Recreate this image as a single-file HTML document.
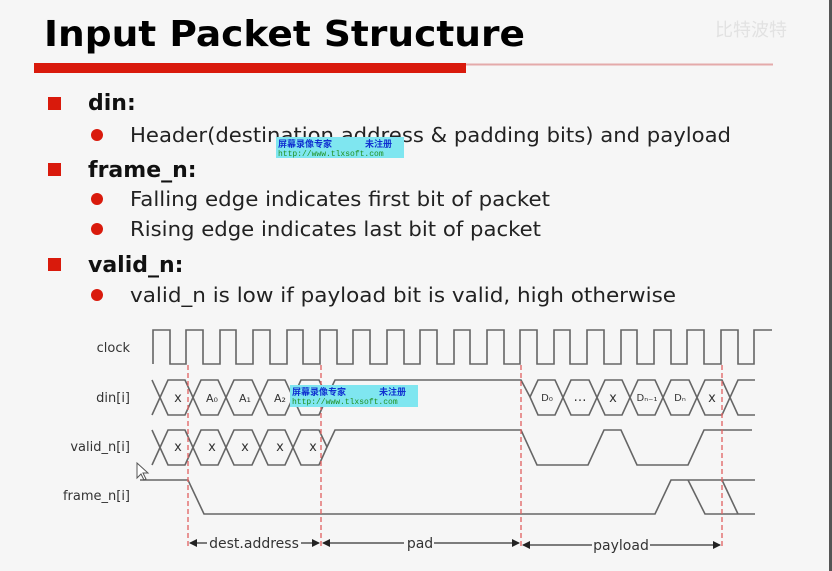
<!DOCTYPE html>
<html><head><meta charset="utf-8"><style>
html,body{margin:0;padding:0;background:#f6f6f6;}
svg{display:block;}
</style></head><body>
<svg width="832" height="571" viewBox="0 0 832 571" xmlns="http://www.w3.org/2000/svg">
<rect width="832" height="571" fill="#f6f6f6"/>
<rect x="829" y="0" width="3" height="571" fill="#555"/>
<text x="44" y="46" font-family="DejaVu Sans, Liberation Sans, sans-serif" font-weight="bold" font-size="36" textLength="481" lengthAdjust="spacingAndGlyphs" fill="#000">Input Packet Structure</text>
<text x="715" y="36" font-family="Noto Sans CJK SC, sans-serif" font-size="18" fill="#e2e2e2">比特波特</text>
<line x1="466" y1="64.5" x2="773" y2="64.5" stroke="#e4aaaa" stroke-width="2"/>
<rect x="34" y="63" width="432" height="10" fill="#d91a0c"/>

<g font-family="DejaVu Sans, Liberation Sans, sans-serif" fill="#111">
<rect x="48" y="97" width="13" height="13" fill="#d91a0c"/>
<text x="88" y="110" font-weight="bold" font-size="22">din:</text>
<circle cx="97" cy="135" r="6" fill="#d91a0c"/>
<text x="130" y="142" font-size="20" textLength="601" lengthAdjust="spacingAndGlyphs" fill="#222">Header(destination address &amp; padding bits) and payload</text>
<rect x="48" y="163" width="13" height="13" fill="#d91a0c"/>
<text x="88" y="177" font-weight="bold" font-size="22">frame_n:</text>
<circle cx="97" cy="199" r="6" fill="#d91a0c"/>
<text x="130" y="206" font-size="20" textLength="420" lengthAdjust="spacingAndGlyphs" fill="#222">Falling edge indicates first bit of packet</text>
<circle cx="97" cy="229" r="6" fill="#d91a0c"/>
<text x="130" y="236" font-size="20" textLength="411" lengthAdjust="spacingAndGlyphs" fill="#222">Rising edge indicates last bit of packet</text>
<rect x="48" y="258" width="13" height="13" fill="#d91a0c"/>
<text x="88" y="272" font-weight="bold" font-size="22">valid_n:</text>
<circle cx="97" cy="295" r="6" fill="#d91a0c"/>
<text x="130" y="302" font-size="20" textLength="546" lengthAdjust="spacingAndGlyphs" fill="#222">valid_n is low if payload bit is valid, high otherwise</text>
</g>

<g font-family="DejaVu Sans, Liberation Sans, sans-serif" font-size="13" fill="#333" text-anchor="end">
<text x="130" y="352">clock</text>
<text x="130" y="402">din[i]</text>
<text x="130" y="451">valid_n[i]</text>
<text x="130" y="500">frame_n[i]</text>
</g>

<g fill="none" stroke="#666" stroke-width="1.6">
<path d="M153,364 V330 H170 V364 H186 V330 H203 V364 H220 V330 H236 V364 H253 V330 H270 V364 H287 V330 H303 V364 H320 V330 H337 V364 H353 V330 H370 V364 H387 V330 H404 V364 H420 V330 H437 V364 H454 V330 H470 V364 H487 V330 H504 V364 H520 V330 H537 V364 H554 V330 H570 V364 H587 V330 H604 V364 H621 V330 H637 V364 H654 V330 H671 V364 H687 V330 H704 V364 H721 V330 H738 V364 H754 V330 H772"/>
<!-- din header -->
<path d="M152,380 L168,415 H185 L201,380 H218 L234,415 H252 L268,380 H285 L301,415 H319 L327,397 L335,380 H521 L530,397 L538,415 H555 L571,380 H589 L605,415 H622 L638,380 H655 L671,415 H689 L705,380 H722 L738,415 H755"/>
<path d="M152,415 L168,380 H185 L201,415 H218 L234,380 H252 L268,415 H285 L301,380 H319 L327,397 M530,397 L538,380 H555 L571,415 H589 L605,380 H622 L638,415 H655 L671,380 H689 L705,415 H722 L738,380 H755"/>
<!-- valid_n -->
<path d="M152,430 L168,465 H185 L201,430 H218 L234,465 H252 L268,430 H285 L301,465 H319 L327,447 L335,430 H521 L537,465 H588 L604,430 H621 L637,465 H688 L704,430 H752"/>
<path d="M152,465 L168,430 H185 L201,465 H218 L234,430 H252 L268,465 H285 L301,430 H319 L327,447"/>
<!-- frame_n -->
<path d="M140,480 H188 L204,514 H655 L671,480 H755"/>
<path d="M688,480 L705,514 H755 M722,480 L738,514"/>
</g>
<path d="M137,463 L137,478 L141,474 L144,480 L146,479 L143,473 L148,473 Z" fill="#fff" stroke="#555" stroke-width="1"/>

<g font-family="DejaVu Sans, Liberation Sans, sans-serif" font-size="13" fill="#333" text-anchor="middle">
<text x="178" y="402">x</text><text x="212" y="402" font-size="11">A₀</text><text x="245" y="402" font-size="11">A₁</text><text x="280" y="402" font-size="11">A₂</text><text x="311" y="402">x</text>
<text x="547" y="401" font-size="10">D₀</text><text x="580" y="401">…</text><text x="613" y="402">x</text><text x="647" y="401" font-size="10">Dₙ₋₁</text><text x="680" y="401" font-size="10">Dₙ</text><text x="712" y="402">x</text>
<text x="178" y="451">x</text><text x="212" y="451">x</text><text x="245" y="451">x</text><text x="280" y="451">x</text><text x="313" y="451">x</text>
</g>

<g stroke="#e06060" stroke-width="1.3" stroke-dasharray="5,3">
<line x1="188" y1="365" x2="188" y2="548"/><line x1="321" y1="365" x2="321" y2="548"/><line x1="521" y1="365" x2="521" y2="548"/><line x1="722" y1="365" x2="722" y2="548"/>
</g>

<g stroke="#333" stroke-width="1.3">
<line x1="190" y1="543" x2="319" y2="543"/><line x1="323" y1="543" x2="519" y2="543"/><line x1="523" y1="545" x2="720" y2="545"/>
</g>
<g fill="#222">
<path d="M189,543 l8,-4 v8z"/><path d="M320,543 l-8,-4 v8z"/>
<path d="M322,543 l8,-4 v8z"/><path d="M520,543 l-8,-4 v8z"/>
<path d="M522,545 l8,-4 v8z"/><path d="M721,545 l-8,-4 v8z"/>
</g>
<g font-family="DejaVu Sans, Liberation Sans, sans-serif" font-size="14" fill="#333" text-anchor="middle">
<rect x="207" y="535" width="94" height="14" fill="#f6f6f6"/><text x="254" y="548">dest.address</text>
<rect x="404" y="535" width="30" height="14" fill="#f6f6f6"/><text x="420" y="548">pad</text>
<rect x="592" y="537" width="58" height="16" fill="#f6f6f6"/><text x="621" y="550">payload</text>
</g>

<g font-family="Noto Sans CJK SC, sans-serif">
<rect x="276" y="137" width="128" height="21" fill="#7fe6f0"/>
<text x="278" y="147" font-size="9" font-weight="bold" fill="#1030d0">屏幕录像专家</text><text x="365" y="147" font-size="9" font-weight="bold" fill="#1030d0">未注册</text>
<text x="278" y="156" font-family="Liberation Mono, monospace" font-size="8" fill="#209020">http://www.tlxsoft.com</text>
<rect x="290" y="385" width="128" height="22" fill="#7fe6f0"/>
<text x="292" y="395" font-size="9" font-weight="bold" fill="#1030d0">屏幕录像专家</text><text x="379" y="395" font-size="9" font-weight="bold" fill="#1030d0">未注册</text>
<text x="292" y="404" font-family="Liberation Mono, monospace" font-size="8" fill="#209020">http://www.tlxsoft.com</text>
</g>
</svg>
</body></html>
